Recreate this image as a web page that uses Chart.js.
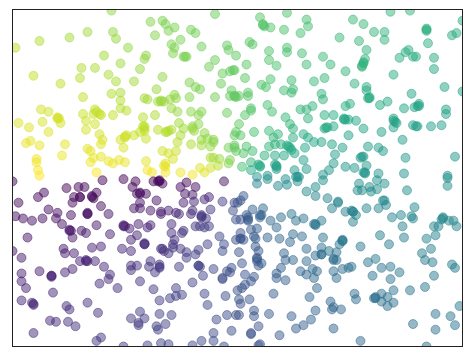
<!DOCTYPE html>
<html>
<head>
<meta charset="utf-8">
<style>
  html, body { margin: 0; padding: 0; background: #fff; }
  canvas { display: block; }
</style>
<script src="https://cdn.jsdelivr.net/npm/chart.js@4"></script>
</head>
<body>
<canvas id="chart1" width="474" height="355"></canvas>
<script>
// points, one list per quadrant, [x, y]
const upperLeft = [[-0.84,1.49],[-1.48,1.16],[-1.32,1.22],[-1.12,1.25],[-1.00,1.30],[-0.83,1.30],[-0.81,1.24],[-0.73,1.16],[-0.89,1.09],[-0.78,1.02],[-0.95,0.98],[-1.04,0.98],[-1.05,0.89],[-1.36,0.91],[-1.18,0.84],[-0.86,0.92],[-0.81,0.86],[-0.65,0.97],[-0.69,0.86],[-0.61,1.09],[-0.62,1.06],[-0.58,1.39],[-0.50,1.40],[-0.48,1.37],[-0.46,1.31],[-0.42,1.34],[-0.55,1.27],[-0.44,1.19],[-0.38,1.23],[-0.42,1.16],[-0.43,1.11],[-0.36,1.08],[-0.34,1.08],[-0.31,1.32],[-0.28,1.29],[-0.24,1.17],[-0.15,1.46],[-0.07,1.18],[-0.06,1.14],[-0.01,1.09],[-0.15,1.05],[-0.19,0.99],[-0.10,0.93],[-0.05,0.95],[-0.02,0.96],[-0.11,0.84],[-0.50,0.90],[-0.54,0.79],[-0.32,0.85],[-0.28,0.81],[-0.25,0.79],[-0.04,0.78],[-0.02,0.73],[-0.05,0.73],[-0.15,0.72],[-0.32,0.72],[-1.03,0.72],[-0.84,0.75],[-0.78,0.76],[-0.78,0.69],[-0.78,0.62],[-0.74,0.60],[-0.62,0.71],[-0.60,0.70],[-0.53,0.68],[-0.51,0.68],[-0.49,0.68],[-0.45,0.70],[-0.42,0.74],[-0.41,0.71],[-0.44,0.62],[-0.40,0.59],[-0.31,0.59],[-0.24,0.59],[-0.26,0.56],[-0.07,0.58],[-1.31,0.61],[-1.26,0.59],[-1.20,0.54],[-1.19,0.53],[-1.18,0.49],[-1.46,0.49],[-1.39,0.45],[-1.30,0.50],[-1.26,0.41],[-1.03,0.57],[-0.95,0.61],[-0.96,0.57],[-0.92,0.57],[-0.91,0.56],[-0.83,0.56],[-1.01,0.51],[-0.95,0.48],[-1.01,0.43],[-0.63,0.54],[-0.55,0.56],[-0.63,0.46],[-0.62,0.42],[-0.39,0.49],[-0.36,0.44],[-0.53,0.43],[-0.48,0.41],[-0.46,0.42],[-0.44,0.43],[-0.30,0.46],[-0.30,0.44],[-0.26,0.48],[-0.29,0.42],[-0.22,0.40],[-0.38,0.38],[-0.92,0.39],[-0.90,0.34],[-0.91,0.30],[-0.78,0.34],[-0.75,0.37],[-0.74,0.38],[-0.69,0.38],[-0.65,0.41],[-0.61,0.35],[-0.76,0.27],[-1.41,0.31],[-1.38,0.33],[-1.32,0.29],[-1.15,0.30],[-1.17,0.20],[-1.00,0.26],[-0.98,0.24],[-0.24,0.34],[-0.20,0.35],[-0.16,0.34],[-0.24,0.29],[-0.18,0.28],[-0.16,0.32],[-0.31,0.30],[-0.40,0.32],[-0.02,0.38],[-0.01,0.41],[-0.06,0.27],[-0.02,0.27],[-0.01,0.24],[-0.50,0.24],[-0.46,0.22],[-0.41,0.24],[-0.43,0.17],[-0.18,0.18],[-0.16,0.18],[-0.12,0.17],[-0.05,0.16],[-0.06,0.13],[-0.13,0.11],[-1.34,0.17],[-1.34,0.14],[-1.33,0.07],[-1.32,0.02],[-0.98,0.14],[-0.96,0.18],[-0.91,0.19],[-0.86,0.15],[-0.83,0.13],[-0.79,0.16],[-0.75,0.14],[-0.61,0.15],[-0.94,0.05],[-0.60,0.07],[-0.57,0.05],[-0.49,0.11],[-0.48,0.10],[-0.48,0.05],[-0.38,0.05],[-0.25,0.09],[-0.18,0.09],[-0.22,0.05],[-0.30,0.03]];

const upperRight = [[0.33,1.47],[0.15,1.43],[0.17,1.37],[0.18,1.35],[0.22,1.34],[0.31,1.32],[0.46,1.41],[0.47,1.35],[0.42,1.29],[0.68,1.25],[0.77,1.41],[0.84,1.37],[0.91,1.30],[0.98,1.30],[0.98,1.23],[1.02,1.48],[1.15,1.49],[0.81,1.22],[0.86,1.14],[0.85,1.06],[0.84,1.03],[0.83,1.00],[0.83,0.99],[0.08,1.21],[0.10,1.19],[0.21,1.13],[0.33,1.16],[0.33,1.12],[0.43,1.11],[0.57,1.08],[0.62,1.01],[0.46,1.01],[0.21,1.05],[0.26,1.00],[0.06,1.01],[0.72,0.95],[1.04,0.92],[0.05,0.89],[0.22,0.88],[0.16,0.83],[0.19,0.81],[0.36,0.87],[0.31,0.78],[0.37,0.79],[0.36,0.76],[0.51,0.86],[0.58,0.89],[0.78,0.84],[0.86,0.81],[0.86,0.78],[0.56,0.75],[0.57,0.70],[0.88,0.72],[0.87,0.71],[0.07,0.76],[0.07,0.73],[0.01,0.73],[0.75,0.66],[0.72,0.64],[0.95,0.65],[1.00,0.68],[1.16,0.75],[1.11,0.62],[1.21,0.66],[1.20,0.64],[1.18,0.63],[1.38,0.81],[1.50,0.77],[1.39,0.61],[1.39,0.57],[1.26,1.32],[1.26,1.31],[1.43,1.27],[1.46,1.29],[1.27,1.20],[1.14,1.14],[1.12,1.12],[1.08,1.07],[1.17,1.08],[1.19,1.08],[1.31,1.07],[1.31,0.97],[1.50,1.40],[0.20,0.65],[0.23,0.59],[0.09,0.62],[0.09,0.60],[0.05,0.56],[0.42,0.61],[0.46,0.61],[0.50,0.64],[0.47,0.53],[0.58,0.56],[0.64,0.56],[0.71,0.52],[0.72,0.52],[0.74,0.52],[0.79,0.51],[0.59,0.45],[0.60,0.45],[0.64,0.46],[0.84,0.44],[0.74,0.38],[0.96,0.41],[1.04,0.53],[1.05,0.50],[1.04,0.45],[1.17,0.47],[1.20,0.46],[1.29,0.46],[1.36,0.47],[1.10,0.34],[0.32,0.54],[0.35,0.48],[0.37,0.44],[0.37,0.36],[0.11,0.41],[0.21,0.42],[0.27,0.39],[0.24,0.36],[0.44,0.39],[0.47,0.36],[0.45,0.27],[0.51,0.32],[0.56,0.32],[0.63,0.30],[0.70,0.27],[0.87,0.28],[0.94,0.27],[0.97,0.24],[1.12,0.18],[1.45,0.19],[0.65,0.21],[0.83,0.19],[0.64,0.13],[0.72,0.10],[0.78,0.09],[0.86,0.11],[0.85,0.05],[0.94,0.04],[1.11,0.04],[1.40,0.02],[0.44,0.16],[0.38,0.07],[0.46,0.08],[0.61,0.07],[0.57,0.03],[0.01,0.48],[0.02,0.38],[0.06,0.28],[0.10,0.24],[0.04,0.22],[0.03,0.10],[0.09,0.14],[0.09,0.07],[0.15,0.11],[0.18,0.20],[0.21,0.28],[0.25,0.20],[0.26,0.11],[0.26,0.08],[0.31,0.20],[0.29,0.30],[0.33,0.29],[0.35,0.27],[0.38,0.22],[0.25,0.30],[0.20,0.02],[0.13,0.01],[0.40,0.01]];

const lowerLeft = [[-1.50,-0.03],[-1.50,-0.65],[-0.90,-0.02],[-0.76,-0.01],[-0.68,-0.03],[-0.56,-0.03],[-0.52,-0.03],[-0.50,-0.05],[-0.34,-0.04],[-0.09,-0.03],[-0.38,-0.08],[-0.28,-0.08],[-0.70,-0.08],[-1.14,-0.09],[-1.06,-0.08],[-1.02,-0.08],[-1.29,-0.13],[-1.33,-0.17],[-1.46,-0.22],[-1.09,-0.17],[-1.05,-0.17],[-1.10,-0.22],[-0.94,-0.13],[-0.97,-0.16],[-0.96,-0.18],[-0.91,-0.25],[-1.26,-0.28],[-1.20,-0.31],[-1.21,-0.36],[-1.11,-0.33],[-1.00,-0.31],[-1.00,-0.32],[-0.86,-0.32],[-1.48,-0.34],[-1.43,-0.36],[-1.37,-0.38],[-1.30,-0.36],[-1.17,-0.41],[-1.12,-0.46],[-1.11,-0.47],[-1.10,-0.53],[-1.04,-0.47],[-1.01,-0.49],[-0.94,-0.42],[-0.85,-0.50],[-1.40,-0.53],[-0.76,-0.42],[-0.75,-0.43],[-0.72,-0.45],[-0.71,-0.55],[-0.67,-0.51],[-0.66,-0.41],[-0.60,-0.44],[-0.58,-0.42],[-0.67,-0.14],[-0.65,-0.14],[-0.61,-0.14],[-0.65,-0.22],[-0.69,-0.27],[-0.65,-0.27],[-0.54,-0.20],[-0.58,-0.29],[-0.51,-0.30],[-0.51,-0.32],[-0.46,-0.29],[-0.41,-0.31],[-0.39,-0.32],[-0.35,-0.14],[-0.36,-0.22],[-0.30,-0.15],[-0.29,-0.21],[-0.22,-0.19],[-0.19,-0.17],[-0.30,-0.29],[-0.31,-0.32],[-0.24,-0.33],[-0.24,-0.35],[-0.18,-0.28],[-0.21,-0.36],[-0.28,-0.43],[-0.25,-0.43],[-0.22,-0.44],[-0.19,-0.43],[-0.44,-0.41],[-0.44,-0.49],[-0.36,-0.47],[-0.37,-0.49],[-0.42,-0.55],[-0.43,-0.59],[-0.43,-0.62],[-0.38,-0.63],[-0.34,-0.66],[-0.34,-0.71],[-0.28,-0.68],[-0.26,-0.64],[-0.20,-0.59],[-0.12,-0.52],[-0.09,-0.59],[-0.10,-0.65],[-0.10,-0.21],[-1.16,-0.63],[-1.15,-0.67],[-1.09,-0.67],[-0.97,-0.62],[-0.91,-0.61],[-0.77,-0.63],[-0.71,-0.65],[-0.62,-0.59],[-0.62,-0.59],[-0.51,-0.63],[-0.49,-0.65],[-0.46,-0.67],[-1.44,-0.71],[-1.05,-0.74],[-1.01,-0.74],[-1.00,-0.74],[-0.95,-0.74],[-0.89,-0.79],[-0.71,-0.78],[-0.67,-0.78],[-0.71,-0.82],[-0.59,-0.79],[-0.58,-0.74],[-0.55,-0.84],[-0.52,-0.77],[-0.52,-0.80],[-0.39,-0.79],[-0.26,-0.78],[-0.25,-0.79],[-0.23,-0.87],[-0.16,-0.81],[-0.10,-0.89],[-0.10,-0.90],[-0.07,-0.83],[-0.05,-0.84],[-0.04,-0.80],[-1.44,-0.85],[-1.32,-0.83],[-1.24,-0.87],[-1.24,-0.88],[-1.15,-0.84],[-1.10,-0.81],[-1.44,-0.92],[-1.41,-0.98],[-1.23,-1.02],[-0.92,-0.94],[-0.86,-0.90],[-0.85,-0.86],[-0.80,-0.98],[-0.65,-0.92],[-0.56,-0.99],[-0.41,-0.98],[-0.41,-1.05],[-0.45,-1.07],[-0.37,-1.04],[-0.30,-0.93],[-0.22,-1.03],[-0.08,-1.05],[-0.52,-1.09],[-0.20,-1.13],[-1.44,-1.09],[-1.37,-1.11],[-1.36,-1.13],[-1.14,-1.14],[-1.12,-1.17],[-1.00,-1.11],[-0.93,-1.20],[-1.25,-1.27],[-1.21,-1.28],[-1.13,-1.28],[-1.08,-1.32],[-0.71,-1.25],[-0.65,-1.19],[-0.62,-1.25],[-0.66,-1.29],[-0.66,-1.31],[-0.52,-1.21],[-0.44,-1.22],[-0.48,-1.30],[-0.54,-1.32],[-0.53,-1.35],[-0.14,-1.26],[-0.07,-1.22],[-0.01,-1.22],[-0.16,-1.38],[-0.04,-1.36],[-1.36,-1.38],[-0.91,-1.42],[-0.94,-1.45],[-0.16,-1.45],[-0.24,-1.45],[-0.30,-1.49],[-0.51,-1.47],[-0.46,-1.48],[-0.60,-1.49],[-0.76,-1.50],[-0.09,-1.50],[-0.02,-0.22],[-0.03,-0.29],[-0.01,-0.37],[-0.01,-0.55]];

const lowerRight = [[0.13,-0.05],[0.20,-0.01],[0.27,-0.07],[0.33,-0.06],[0.32,-0.01],[0.40,-0.03],[0.57,-0.02],[0.46,-0.12],[0.52,-0.08],[0.52,-0.16],[0.60,-0.18],[0.67,-0.22],[0.67,-0.21],[0.63,-0.27],[0.81,-0.05],[0.80,-0.11],[0.83,-0.11],[0.88,-0.08],[0.89,-0.12],[0.93,-0.10],[0.93,-0.02],[0.98,-0.05],[1.13,-0.11],[1.40,-0.07],[1.40,-0.00],[0.72,-0.30],[0.76,-0.29],[0.77,-0.30],[0.79,-0.33],[0.77,-0.39],[0.86,-0.27],[0.94,-0.27],[0.97,-0.20],[0.98,-0.20],[0.99,-0.24],[1.18,-0.26],[1.03,-0.35],[1.09,-0.33],[1.16,-0.34],[1.17,-0.36],[1.10,-0.43],[1.31,-0.43],[1.34,-0.43],[1.37,-0.35],[1.36,-0.37],[1.41,-0.38],[1.44,-0.38],[1.46,-0.43],[1.32,-0.51],[1.26,-0.54],[0.95,-0.51],[1.11,-0.53],[1.01,-0.59],[0.82,-0.61],[1.29,-0.63],[1.23,-0.67],[1.25,-0.73],[1.30,-0.75],[1.43,-0.77],[1.45,-0.80],[1.31,-0.87],[1.25,-0.97],[1.15,-1.00],[0.90,-0.87],[0.87,-0.75],[0.92,-0.72],[0.96,-0.80],[1.02,-0.79],[1.08,-0.84],[1.02,-0.90],[1.04,-1.00],[0.96,-1.03],[0.92,-1.07],[0.91,-1.07],[1.00,-1.06],[0.96,-1.10],[1.04,-1.11],[1.00,-1.14],[1.48,-1.14],[1.32,-1.21],[1.42,-1.23],[1.17,-1.30],[1.45,-1.31],[1.32,-1.35],[1.26,-1.50],[0.82,-1.45],[0.04,-0.16],[0.02,-0.20],[0.00,-0.22],[0.10,-0.28],[0.17,-0.27],[0.16,-0.33],[0.15,-0.35],[0.22,-0.38],[0.29,-0.35],[0.36,-0.32],[0.39,-0.38],[0.44,-0.36],[0.26,-0.44],[0.20,-0.53],[0.28,-0.54],[0.37,-0.50],[0.43,-0.52],[0.35,-0.57],[0.51,-0.41],[0.52,-0.42],[0.56,-0.38],[0.57,-0.53],[0.46,-0.63],[0.56,-0.62],[0.56,-0.68],[0.52,-0.69],[0.61,-0.65],[0.66,-0.66],[0.64,-0.72],[0.66,-0.73],[0.68,-0.59],[0.70,-0.55],[0.70,-0.56],[0.31,-0.67],[0.32,-0.73],[0.37,-0.73],[0.46,-0.74],[0.29,-0.80],[0.26,-0.85],[0.26,-0.89],[0.32,-0.91],[0.42,-0.83],[0.46,-0.86],[0.50,-0.81],[0.53,-0.83],[0.51,-0.89],[0.64,-0.83],[0.66,-0.89],[0.70,-0.81],[0.74,-0.80],[0.76,-0.79],[0.53,-0.98],[0.24,-1.03],[0.48,-1.06],[0.62,-1.10],[0.64,-1.15],[0.63,-1.17],[0.69,-1.17],[0.52,-1.18],[0.78,-1.03],[0.79,-1.08],[0.36,-1.23],[0.49,-1.26],[0.44,-1.31],[0.39,-1.34],[0.64,-1.34],[0.21,-1.21],[0.28,-1.40],[0.09,-1.38],[0.14,-1.32],[0.11,-1.18],[0.11,-1.23],[0.08,-1.08],[0.01,-1.08],[0.02,-1.12],[0.01,-1.22],[0.14,-1.49],[0.05,-0.86],[0.11,-0.88],[0.09,-0.92],[0.05,-0.95],[0.03,-0.98],[0.00,-1.00],[0.06,-0.33],[0.07,-0.35],[0.07,-0.38],[0.02,-0.37],[0.09,-0.46],[0.13,-0.45],[0.11,-0.52],[0.12,-0.54],[0.02,-0.49],[0.02,-0.54],[0.04,-0.55],[0.01,-0.66],[0.12,-0.61],[0.14,-0.65],[0.13,-0.72],[0.13,-0.74],[0.16,-0.76],[0.14,-0.78],[0.03,-0.76]];

// second points inside the darker blobs, where two or three marks sit on top of each other
const overlaps = [[0.34,0.28],[0.36,0.25],[0.15,0.10],[0.14,0.12],[0.26,0.10],[0.25,0.12],[0.39,0.01],[0.41,0.01],[0.85,0.04],[0.84,0.05],[0.82,0.18],[0.84,0.19],[1.04,0.51],[1.06,0.49],[1.21,0.64],[0.58,0.44],[0.71,0.53],[1.26,1.33],[0.17,1.36],[0.84,1.02],[0.88,0.71],[1.19,0.46],[-1.20,0.53],[-0.62,0.44],[-0.62,0.46],[-0.02,0.29],[-0.02,0.73],[-0.01,0.72],[-0.75,0.36],[-0.94,0.59],[-0.51,0.69],[-0.47,0.41],[-0.35,1.08],[-0.03,0.96],[-0.48,0.13],[-0.52,-0.02],[-0.53,-0.03],[-0.97,-0.17],[-1.00,-0.32],[-1.12,-0.47],[-0.76,-0.43],[-0.62,-0.58],[-0.50,-0.63],[-0.52,-0.79],[-0.26,-0.78],[-0.24,-0.34],[-1.24,-0.87],[-1.01,-0.73],[-1.36,-1.12],[-0.65,-0.13],[-1.05,-0.17],[0.52,-0.41],[0.07,-0.37],[0.02,-0.54],[0.13,-0.71],[0.77,-0.30],[0.92,-1.06],[0.64,-0.73],[0.56,-0.68],[1.37,-0.36],[0.09,-1.39],[0.15,-0.33],[0.70,-0.56],[0.15,-1.48]];

const viridis = [[68,1,84],[72,36,117],[65,68,135],[53,95,141],[42,120,142],[33,145,140],[34,168,132],[68,191,112],[122,209,81],[189,223,38],[253,231,37]];

const allPoints = upperLeft.concat(upperRight, lowerLeft, lowerRight, overlaps);

function angleColor(p) {
  // colour follows the angle of the point, -pi to pi
  const t = (Math.atan2(p[1], p[0]) + Math.PI) / (2 * Math.PI) * (viridis.length - 1);
  const i = Math.min(Math.floor(t), viridis.length - 2);
  const f = t - i;
  const c = viridis[i].map((v, k) => Math.round(v + (viridis[i + 1][k] - v) * f));
  return "rgba(" + c[0] + "," + c[1] + "," + c[2] + ",0.5)";
}

const frame = {
  id: "frame",
  afterDraw(chart) {
    const a = chart.chartArea;
    const ctx = chart.ctx;
    ctx.save();
    ctx.strokeStyle = "#222";
    ctx.lineWidth = 1;
    ctx.strokeRect(a.left, a.top, a.right - a.left, a.bottom - a.top);
    ctx.restore();
  }
};

const ctx = document.getElementById("chart1").getContext("2d");
const myChart = new Chart(ctx, {
  type: "scatter",
  data: {
    datasets: [
      {
        data: allPoints.map((p) => ({ x: p[0], y: p[1] })),
        pointBackgroundColor: allPoints.map(angleColor),
        pointBorderColor: allPoints.map(angleColor),
        pointBorderWidth: 1,
        pointRadius: 4.5,
        clip: 0,
      },
    ],
  },
  options: {
    responsive: false,
    animation: false,
    layout: {
      autoPadding: false,
      padding: { left: 12.5, right: 11.5, top: 9.5, bottom: 8.5 },
    },
    plugins: {
      legend: { display: false },
      tooltip: { enabled: false },
    },
    scales: {
      x: { min: -1.5, max: 1.5, display: false },
      y: { min: -1.5, max: 1.5, display: false },
    },
  },
  plugins: [frame],
});
</script>
</body>
</html>
